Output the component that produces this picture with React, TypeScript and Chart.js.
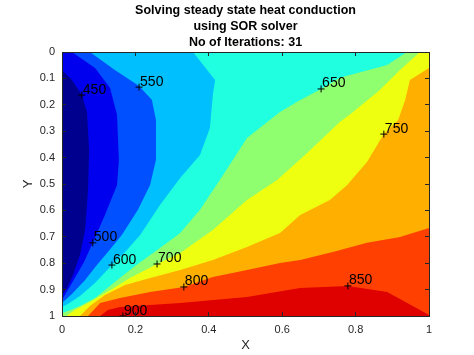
import React, { useEffect, useRef } from "react";
import { Chart, registerables } from "chart.js";

Chart.register(...registerables);

const FONT = '"Liberation Sans", Arial, Helvetica, sans-serif';

const titleLines = ["Solving steady state heat conduction", "using SOR solver", "No of Iterations: 31"];
const xAxisTitle = "X";
const yAxisTitle = "Y";
const xTickValues = [0, 0.2, 0.4, 0.6, 0.8, 1];
const xTickLabels = ["0", "0.2", "0.4", "0.6", "0.8", "1"];
const yTickValues = [0, 0.1, 0.2, 0.3, 0.4, 0.5, 0.6, 0.7, 0.8, 0.9, 1];
const yTickLabels = ["0", "0.1", "0.2", "0.3", "0.4", "0.5", "0.6", "0.7", "0.8", "0.9", "1"];

// contour levels and the jet colour of the band above each level
const levels = [400, 450, 500, 550, 600, 650, 700, 750, 800, 850];
const bandColors = [
  "rgb(0,0,143)",
  "rgb(0,0,239)",
  "rgb(0,80,255)",
  "rgb(0,191,255)",
  "rgb(32,255,223)",
  "rgb(143,255,112)",
  "rgb(239,255,16)",
  "rgb(255,175,0)",
  "rgb(255,64,0)",
  "rgb(223,0,0)",
];

// plot domain (the 400 band fills the whole domain)
const domainX = [0, 1, 1, 0];
const domainY = [0, 0, 1, 1];

// contour lines (x, y), each followed by the domain corners on its hot side
const c450X = [0, 0.027, 0.054, 0.068, 0.074, 0.071, 0.063, 0.049, 0.03, 0.014, 0, 0, 1, 1, 0];
const c450Y = [0.068, 0.106, 0.163, 0.227, 0.371, 0.523, 0.674, 0.769, 0.845, 0.894, 0.92, 1, 1, 0, 0];

const c500X = [0.027, 0.09, 0.131, 0.15, 0.155, 0.15, 0.117, 0.084, 0.06, 0.035, 0, 0, 1, 1];
const c500Y = [0, 0.061, 0.136, 0.239, 0.409, 0.504, 0.617, 0.723, 0.795, 0.856, 0.939, 1, 1, 0];

const c550X = [0.076, 0.144, 0.21, 0.245, 0.256, 0.256, 0.24, 0.207, 0.163, 0.125, 0.095, 0.063, 0.027, 0, 0, 1, 1];
const c550Y = [0, 0.068, 0.129, 0.182, 0.258, 0.409, 0.504, 0.598, 0.693, 0.758, 0.807, 0.864, 0.917, 0.951, 1, 1, 0];

const c600X = [0.357, 0.417, 0.411, 0.403, 0.376, 0.322, 0.267, 0.213, 0.172, 0.136, 0.09, 0.049, 0.016, 0, 0, 1, 1];
const c600Y = [0, 0.106, 0.163, 0.288, 0.39, 0.477, 0.58, 0.693, 0.758, 0.807, 0.875, 0.924, 0.955, 0.966, 1, 1, 0];

const c650X = [0.94, 0.886, 0.757, 0.706, 0.649, 0.594, 0.504, 0.439, 0.376, 0.322, 0.267, 0.199, 0.144, 0.09, 0.049, 0.016, 0, 0, 1, 1];
const c650Y = [0, 0.049, 0.098, 0.14, 0.182, 0.227, 0.326, 0.466, 0.598, 0.686, 0.742, 0.811, 0.871, 0.932, 0.962, 0.981, 0.989, 1, 1, 0];

const c700X = [0.975, 0.921, 0.866, 0.793, 0.757, 0.662, 0.586, 0.504, 0.411, 0.322, 0.259, 0.185, 0.131, 0.076, 0.035, 0.011, 1, 1];
const c700Y = [0, 0.068, 0.144, 0.227, 0.265, 0.39, 0.485, 0.561, 0.674, 0.761, 0.803, 0.856, 0.902, 0.947, 0.977, 1, 1, 0];

const c750X = [1, 0.948, 0.935, 0.916, 0.877, 0.831, 0.777, 0.73, 0.649, 0.594, 0.504, 0.411, 0.322, 0.24, 0.172, 0.117, 0.076, 0.049, 1];
const c750Y = [0.061, 0.106, 0.182, 0.258, 0.311, 0.417, 0.504, 0.561, 0.617, 0.686, 0.739, 0.788, 0.826, 0.856, 0.883, 0.92, 0.962, 1, 1];

const c800X = [1, 0.921, 0.831, 0.738, 0.649, 0.594, 0.504, 0.411, 0.332, 0.24, 0.158, 0.104, 0.071, 1];
const c800Y = [0.667, 0.701, 0.723, 0.758, 0.788, 0.799, 0.826, 0.852, 0.89, 0.909, 0.932, 0.951, 1, 1];

const c850X = [1, 0.886, 0.779, 0.649, 0.504, 0.322, 0.24, 0.158, 0.125, 0.104, 1];
const c850Y = [0.996, 0.909, 0.886, 0.894, 0.928, 0.951, 0.958, 0.966, 0.977, 1, 1];

const regionXs = [domainX, c450X, c500X, c550X, c600X, c650X, c700X, c750X, c800X, c850X];
const regionYs = [domainY, c450Y, c500Y, c550Y, c600Y, c650Y, c700Y, c750Y, c800Y, c850Y];

// contour labels
const labelTexts = ["450", "500", "550", "600", "650", "700", "750", "800", "850", "900"];
const labelX = [0.054, 0.084, 0.21, 0.136, 0.706, 0.259, 0.877, 0.332, 0.779, 0.166];
const labelY = [0.163, 0.723, 0.133, 0.807, 0.14, 0.803, 0.311, 0.89, 0.886, 1.0];

const AXIS_COLOR = "#262626";

function nearestLabel(values: number[], labels: string[], v: number) {
  let best = 0;
  for (let i = 1; i < values.length; i++) {
    if (Math.abs(values[i] - v) < Math.abs(values[best] - v)) best = i;
  }
  return labels[best];
}

const contourLabelPlugin = {
  id: "contourLabels",
  afterDatasetsDraw(chart: any) {
    const { ctx, scales } = chart;
    ctx.save();
    ctx.font = `14px ${FONT}`;
    ctx.fillStyle = "#000";
    ctx.textAlign = "left";
    ctx.textBaseline = "alphabetic";
    labelTexts.forEach((t, i) => {
      const px = scales.x.getPixelForValue(labelX[i]);
      const py = scales.y.getPixelForValue(labelY[i]);
      ctx.fillText(t, px + 1, py - 1.5);
    });
    ctx.restore();
  },
};

export default function App() {
  const ref = useRef<HTMLCanvasElement | null>(null);

  useEffect(() => {
    if (!ref.current) return;
    const datasets: any[] = regionXs.map((xs, i) => ({
      label: String(levels[i]),
      data: xs.map((x, j) => ({ x, y: regionYs[i][j] })),
      showLine: true,
      fill: "shape",
      backgroundColor: bandColors[i],
      borderColor: "transparent",
      borderWidth: 0,
      pointRadius: 0,
      tension: 0,
      order: 100 - i,
    }));
    datasets.push({
      label: "labels",
      data: labelX.map((x, i) => ({ x, y: labelY[i] })),
      showLine: false,
      fill: false,
      pointStyle: "cross",
      pointRadius: 3.5,
      pointBorderColor: "#000",
      pointBackgroundColor: "#000",
      pointBorderWidth: 1,
      borderColor: "#000",
      order: 0,
    });

    const gridOpts = {
      drawOnChartArea: false,
      drawTicks: true,
      tickLength: -4,
      color: AXIS_COLOR,
      lineWidth: 1,
      z: 1,
    };
    const borderOpts = { display: true, color: AXIS_COLOR, width: 1, z: 1 };
    const tickFont = { family: FONT, size: 11 };

    const chart = new Chart(ref.current, {
      type: "line",
      data: { datasets },
      options: {
        responsive: false,
        animation: false,
        devicePixelRatio: 1,
        layout: { padding: { left: 0, right: 45, top: 0, bottom: 0 } },
        plugins: {
          legend: { display: false },
          tooltip: { enabled: false },
          title: {
            display: true,
            text: titleLines,
            color: "#000",
            fullSize: false,
            font: { family: FONT, size: 12.5, weight: "bold", lineHeight: 1.28 },
            padding: { top: 3, bottom: 1 },
          },
        },
        scales: {
          x: {
            type: "linear",
            position: "bottom",
            min: 0,
            max: 1,
            ticks: {
              stepSize: 0.2,
              padding: 11,
              color: AXIS_COLOR,
              font: tickFont,
              maxRotation: 0,
              autoSkip: false,
              callback: (v: any) => nearestLabel(xTickValues, xTickLabels, Number(v)),
            },
            grid: gridOpts,
            border: borderOpts,
            title: {
              display: true,
              text: xAxisTitle,
              color: AXIS_COLOR,
              font: { family: FONT, size: 13 },
              padding: { top: 0, bottom: 2 },
            },
            afterFit: (s: any) => {
              s.height = 39;
            },
          },
          y: {
            type: "linear",
            position: "left",
            reverse: true,
            min: 0,
            max: 1,
            ticks: {
              stepSize: 0.1,
              padding: 11,
              color: AXIS_COLOR,
              font: tickFont,
              autoSkip: false,
              callback: (v: any) => nearestLabel(yTickValues, yTickLabels, Number(v)),
            },
            grid: gridOpts,
            border: borderOpts,
            title: {
              display: true,
              text: yAxisTitle,
              color: AXIS_COLOR,
              font: { family: FONT, size: 13 },
              padding: { top: 21, bottom: 0 },
            },
            afterFit: (s: any) => {
              s.width = 62;
            },
          },
          x2: {
            type: "linear",
            position: "top",
            min: 0,
            max: 1,
            ticks: { display: false, stepSize: 0.2 },
            grid: gridOpts,
            border: borderOpts,
            afterFit: (s: any) => {
              s.height = 0;
            },
          },
          y2: {
            type: "linear",
            position: "right",
            reverse: true,
            min: 0,
            max: 1,
            ticks: { display: false, stepSize: 0.1 },
            grid: gridOpts,
            border: borderOpts,
            afterFit: (s: any) => {
              s.width = 0;
            },
          },
        },
      } as any,
      plugins: [contourLabelPlugin],
    });
    return () => chart.destroy();
  }, []);

  return (
    <div style={{ position: "fixed", left: 0, top: 0, width: 474, height: 355, background: "#fff" }}>
      <canvas ref={ref} width={474} height={355} style={{ display: "block" }} />
    </div>
  );
}
